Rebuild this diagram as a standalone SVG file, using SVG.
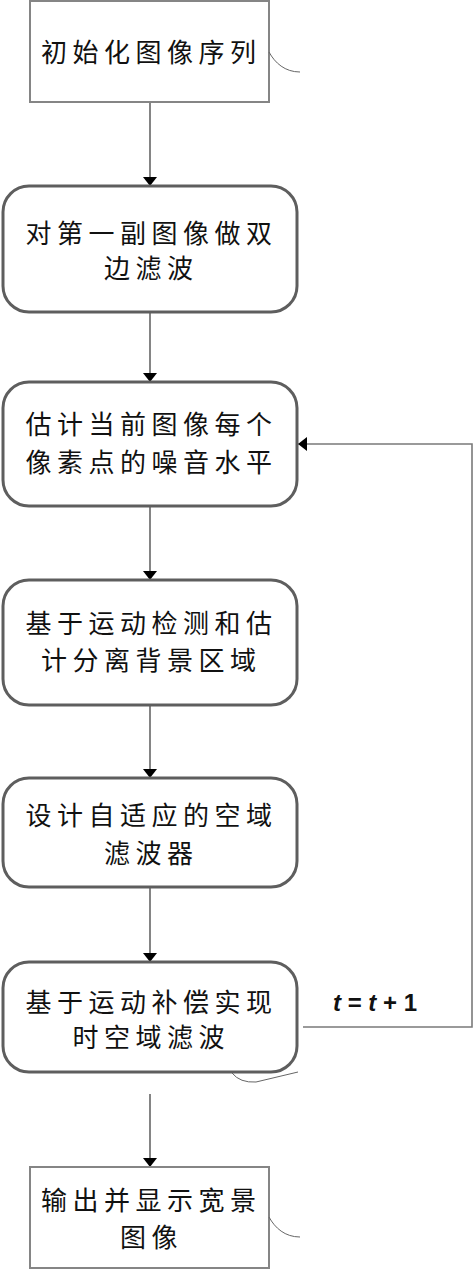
<svg xmlns="http://www.w3.org/2000/svg" width="474" height="1270" viewBox="0 0 474 1270">
<style>
.rbox{fill:#fff;stroke:#5e5e5e;stroke-width:3}
.sbox{fill:#fff;stroke:#858585;stroke-width:2}
.lbl{font-family:"Noto Sans CJK SC","Noto Sans CJK JP",sans-serif;font-size:26px;letter-spacing:5.5px;fill:#111}
.conn{fill:none;stroke:#333;stroke-width:1.2}
.fb{fill:none;stroke:#7a7a7a;stroke-width:1.6}
.curl{fill:none;stroke:#666;stroke-width:1}
.eq{font-family:"Liberation Sans",Arial,sans-serif;font-size:24px;font-weight:bold;fill:#111}
</style>
<defs>
<marker id="ahv" markerUnits="userSpaceOnUse" markerWidth="9" markerHeight="14" viewBox="0 0 9 14" refX="9" refY="7" orient="auto">
<path d="M0,0 L9,7 L0,14 Z" fill="#000"/>
</marker>
</defs>
<g id="connectors">
<line class="conn" x1="150" y1="102" x2="150" y2="186" marker-end="url(#ahv)"/>
<line class="conn" x1="150" y1="312" x2="150" y2="382" marker-end="url(#ahv)"/>
<line class="conn" x1="150" y1="506" x2="150" y2="580" marker-end="url(#ahv)"/>
<line class="conn" x1="150" y1="705" x2="150" y2="778" marker-end="url(#ahv)"/>
<line class="conn" x1="150" y1="887" x2="150" y2="962" marker-end="url(#ahv)"/>
<line class="conn" x1="150" y1="1094" x2="150" y2="1167" marker-end="url(#ahv)"/>
<polyline class="fb" points="303,1027 472,1027 472,444 298,444" marker-end="url(#ahv)"/>
<text class="eq" x="333" y="1011"><tspan font-style="italic">t</tspan> = <tspan font-style="italic">t</tspan> + 1</text>
</g>
<g id="n1">
<rect class="sbox" x="30" y="1" width="239" height="101"/>
<text class="lbl" x="41" y="62">初始化图像序列</text>
<path class="curl" d="M269,52 C275,63 285,72 300,72"/>
</g>
<g id="n2">
<rect class="rbox" x="3" y="186" width="294" height="126" rx="26" ry="26"/>
<text class="lbl" x="25.5" y="243">对第一副图像做双</text>
<text class="lbl" x="104" y="278">边滤波</text>
</g>
<g id="n3">
<rect class="rbox" x="3" y="382" width="294" height="124" rx="26" ry="26"/>
<text class="lbl" x="25.5" y="434">估计当前图像每个</text>
<text class="lbl" x="25.5" y="472">像素点的噪音水平</text>
</g>
<g id="n4">
<rect class="rbox" x="3" y="580" width="294" height="125" rx="26" ry="26"/>
<text class="lbl" x="25.5" y="633">基于运动检测和估</text>
<text class="lbl" x="41" y="670">计分离背景区域</text>
</g>
<g id="n5">
<rect class="rbox" x="3" y="778" width="294" height="109" rx="26" ry="26"/>
<text class="lbl" x="25.5" y="825">设计自适应的空域</text>
<text class="lbl" x="104" y="863">滤波器</text>
</g>
<g id="n6">
<rect class="rbox" x="3" y="962" width="294" height="110" rx="26" ry="26"/>
<text class="lbl" x="25.5" y="1012">基于运动补偿实现</text>
<text class="lbl" x="72.5" y="1047">时空域滤波</text>
<path class="curl" d="M232,1073 Q240,1083 256,1082 L298,1072"/>
</g>
<g id="n7">
<rect class="sbox" x="30" y="1167" width="239" height="101"/>
<text class="lbl" x="41" y="1210">输出并显示宽景</text>
<text class="lbl" x="120" y="1247">图像</text>
<path class="curl" d="M269,1217 C275,1228 285,1237 300,1237"/>
</g>
</svg>
